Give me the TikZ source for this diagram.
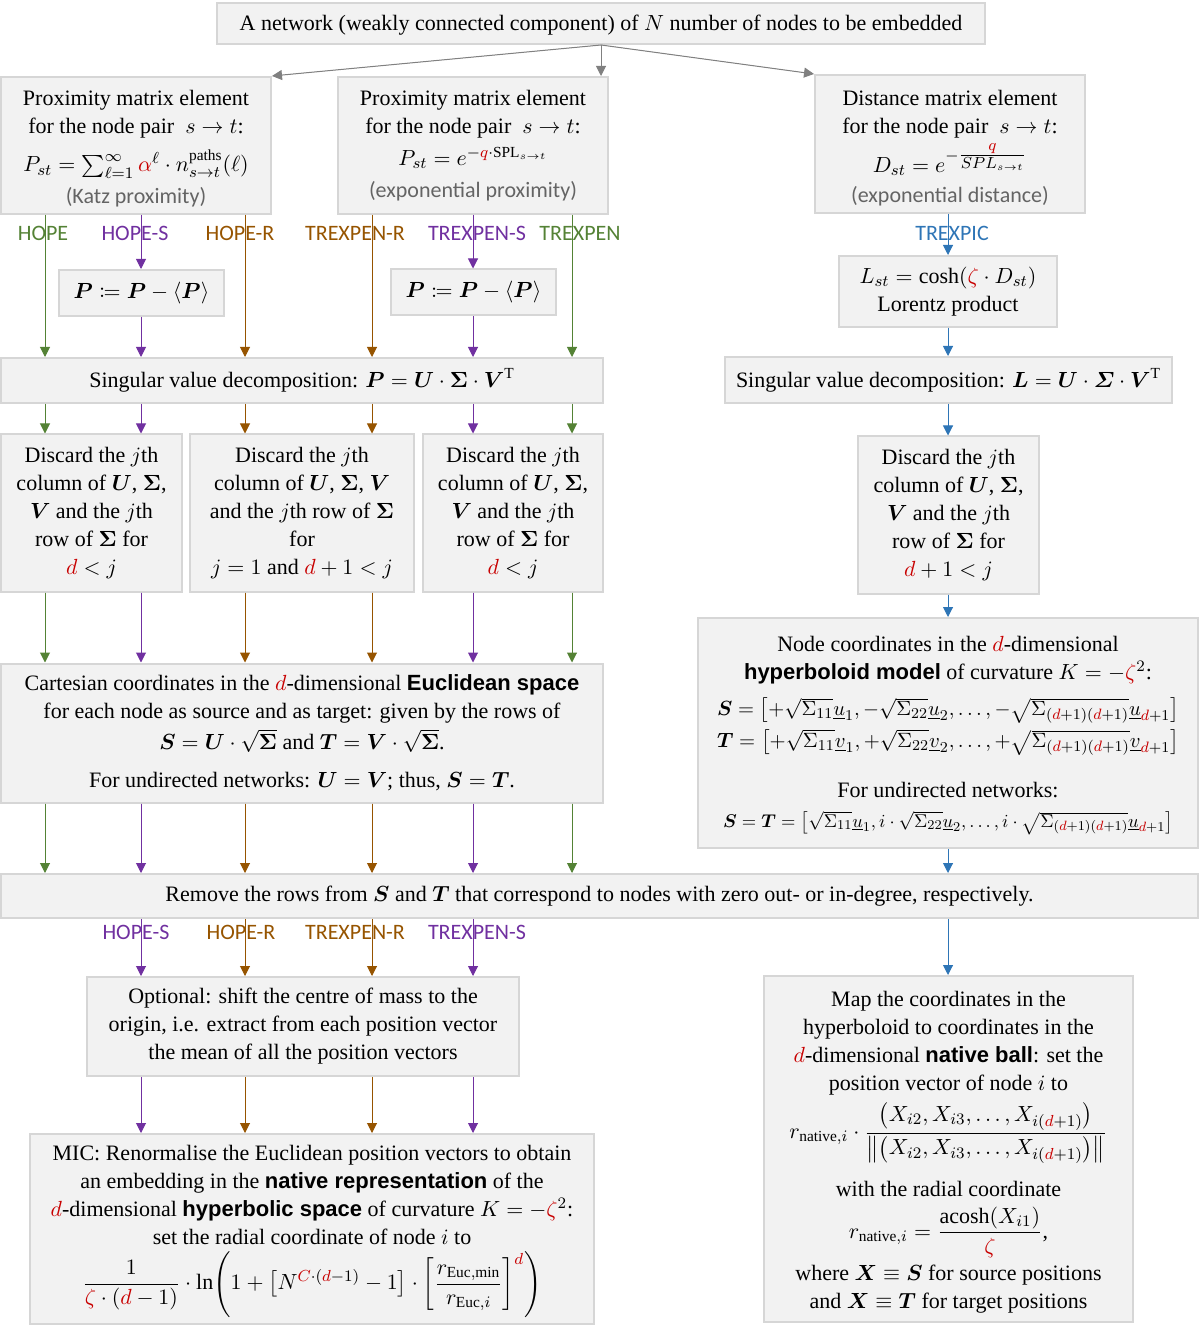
\documentclass[tikz,border=0pt]{standalone}
\usepackage{mathtools,amssymb}
\usepackage{graphicx}
\usepackage{fontspec}
\setmainfont{Liberation Serif}
\newfontfamily\lblfont{Carlito}
\newfontfamily\hvfont{Liberation Sans}
\usetikzlibrary{arrows.meta}
\definecolor{bfill}{RGB}{242,242,242}
\definecolor{bdraw}{RGB}{214,214,214}
\definecolor{cgreen}{RGB}{84,130,53}
\definecolor{cpurple}{RGB}{112,48,160}
\definecolor{cbrown}{RGB}{150,84,0}
\definecolor{cblue}{RGB}{46,117,182}
\definecolor{cgrey}{RGB}{128,128,128}
\definecolor{ctxtgrey}{RGB}{100,100,100}
\definecolor{myred}{RGB}{200,0,0}
\newcommand{\bmx}[1]{\boldsymbol{#1}}
\newcommand{\rdc}[1]{{\color{myred}#1}}
\newcommand{\hv}[1]{{\hvfont\bfseries #1}}
\begin{document}
\begin{tikzpicture}[x=0.5pt,y=-0.5pt,
  box/.style={draw=bdraw,fill=bfill,line width=1pt,align=center,inner sep=0pt,
    font=\fontsize{11}{14}\selectfont},
  lbl/.style={font=\lblfont\fontsize{11}{13}\selectfont,inner sep=0pt},
  arr/.style={line width=0.5pt,-{Triangle[width=5pt,length=5pt]}},
  ag/.style={arr,draw=cgreen,fill=cgreen},
  ap/.style={arr,draw=cpurple,fill=cpurple},
  ab/.style={arr,draw=cbrown,fill=cbrown},
  al/.style={arr,draw=cblue,fill=cblue},
  agr/.style={arr,draw=cgrey,fill=cgrey}]
\useasboundingbox (0,0) rectangle (1200,1325);

% boxes
\node[box,minimum width=384pt,minimum height=20.5pt] (T) at (601,23.5)
  {\rule{0pt}{9pt}A network (weakly connected component) of $N$ number of nodes to be embedded};

\node[box,minimum width=135pt,minimum height=68.5pt] (P1) at (136,145.5)
  {\rule{0pt}{11pt}Proximity matrix element\\
   for the node pair \ $s\to t$:\\[5pt]
   $P_{st}=\sum_{\ell=1}^{\infty}\rdc{\alpha}^{\ell}\cdot n_{s\to t}^{\mathrm{paths}}(\ell)$\\[2pt]
   {\lblfont\color{ctxtgrey}(Katz proximity)}};

\node[box,minimum width=135pt,minimum height=68.5pt] (P2) at (473,145.5)
  {Proximity matrix element\\
   for the node pair \ $s\to t$:\\[2pt]
   $P_{st}=e^{-\rdc{q}\cdot\mathrm{SPL}_{s\to t}}$\\[2pt]
   {\lblfont\color{ctxtgrey}(exponential proximity)}};

\node[box,minimum width=135pt,minimum height=69pt] (D) at (950,144)
  {\rule{0pt}{11.5pt}Distance matrix element\\
   for the node pair \ $s\to t$:\\[2pt]
   $D_{st}=e^{-\tfrac{\rdc{q}}{SPL_{s\to t}}}$\\[1pt]
   {\lblfont\color{ctxtgrey}(exponential distance)}};

\node[box,minimum width=82.5pt,minimum height=23pt] (Pc1) at (141.5,293)
  {$\bmx{P}\coloneqq\bmx{P}-\langle\bmx{P}\rangle$};
\node[box,minimum width=82.5pt,minimum height=23pt] (Pc2) at (473.5,292.5)
  {$\bmx{P}\coloneqq\bmx{P}-\langle\bmx{P}\rangle$};

\node[box,minimum width=109pt,minimum height=35.5pt] (L) at (948,291.5)
  {$L_{st}=\cosh(\rdc{\zeta}\cdot D_{st})$\\Lorentz product};

\node[box,minimum width=301pt,minimum height=22.5pt] (SVD1) at (302,380.5)
  {Singular value decomposition: $\bmx{P}=\bmx{U}\cdot\bmx{\Sigma}\cdot\bmx{V}^{\mathrm{T}}$};
\node[box,minimum width=223.5pt,minimum height=23pt] (SVD2) at (948.5,380)
  {Singular value decomposition: $\bmx{L}=\bmx{U}\cdot\bmx{\varSigma}\cdot\bmx{V}^{\mathrm{T}}$};

\node[box,minimum width=90.5pt,minimum height=78.5pt] (Di1) at (91.5,513)
  {Discard the $j$th\\column of $\bmx{U}$, $\bmx{\Sigma}$,\\$\bmx{V}$ and the $j$th\\row of $\bmx{\Sigma}$ for\\$\rdc{d}<j$};
\node[box,minimum width=112pt,minimum height=78.5pt] (Di2) at (302,513)
  {Discard the $j$th\\column of $\bmx{U}$, $\bmx{\Sigma}$, $\bmx{V}$\\and the $j$th row of $\bmx{\Sigma}$\\for\\$j=1$ and $\rdc{d}+1<j$};
\node[box,minimum width=90pt,minimum height=78.5pt] (Di3) at (513,513)
  {Discard the $j$th\\column of $\bmx{U}$, $\bmx{\Sigma}$,\\$\bmx{V}$ and the $j$th\\row of $\bmx{\Sigma}$ for\\$\rdc{d}<j$};
\node[box,minimum width=90.5pt,minimum height=78.5pt] (Di4) at (948.5,515)
  {Discard the $j$th\\column of $\bmx{U}$, $\bmx{\Sigma}$,\\$\bmx{V}$ and the $j$th\\row of $\bmx{\Sigma}$ for\\$\rdc{d}+1<j$};

\node[box,minimum width=301pt,minimum height=69.5pt] (Cart) at (302,733)
  {Cartesian coordinates in the $\rdc{d}$-dimensional \hv{Euclidean space}\\
   for each node as source and as target: given by the rows of\\[1.5pt]
   $\bmx{S}=\bmx{U}\cdot\sqrt{\bmx{\Sigma}}$ and $\bmx{T}=\bmx{V}\cdot\sqrt{\bmx{\Sigma}}$.\\[5pt]
   For undirected networks: $\bmx{U}=\bmx{V}$; thus, $\bmx{S}=\bmx{T}$.};

\node[box,minimum width=250pt,minimum height=115pt] (Hyp) at (948,733)
  {\rule{0pt}{10pt}Node coordinates in the $\rdc{d}$-dimensional\\
   \hv{hyperboloid model} of curvature $K=-\rdc{\zeta}^2$:\\[4pt]
   \resizebox{231pt}{!}{$\bmx{S}=\bigl[+\sqrt{\Sigma_{11}}\underline{u}_1,-\sqrt{\Sigma_{22}}\underline{u}_2,\ldots,-\sqrt{\Sigma_{(\rdc{d}+1)(\rdc{d}+1)}}\underline{u}_{\rdc{d}+1}\bigr]$}\\[2pt]
   \resizebox{231pt}{!}{$\bmx{T}=\bigl[+\sqrt{\Sigma_{11}}\underline{v}_1,+\sqrt{\Sigma_{22}}\underline{v}_2,\ldots,+\sqrt{\Sigma_{(\rdc{d}+1)(\rdc{d}+1)}}\underline{v}_{\rdc{d}+1}\bigr]$}\\[11pt]
   For undirected networks:\\[1pt]
   \resizebox{225pt}{!}{$\bmx{S}=\bmx{T}=\bigl[\sqrt{\Sigma_{11}}\underline{u}_1,i\cdot\sqrt{\Sigma_{22}}\underline{u}_2,\ldots,i\cdot\sqrt{\Sigma_{(\rdc{d}+1)(\rdc{d}+1)}}\underline{u}_{\rdc{d}+1}\bigr]$}};

\node[box,minimum width=598.5pt,minimum height=22pt] (Rem) at (599.5,896)
  {Remove the rows from $\bmx{S}$ and $\bmx{T}$ that correspond to nodes with zero out- or in-degree, respectively.};

\node[box,minimum width=216pt,minimum height=49.5pt] (Opt) at (303,1026.5)
  {Optional: shift the centre of mass to the\\origin, i.e. extract from each position vector\\the mean of all the position vectors};

\node[box,minimum width=282pt,minimum height=95pt] (MIC) at (312,1229)
  {\rule{0pt}{10pt}MIC: Renormalise the Euclidean position vectors to obtain\\
   an embedding in the \hv{native representation} of the\\
   $\rdc{d}$-dimensional \hv{hyperbolic space} of curvature $K=-\rdc{\zeta}^2$:\\
   set the radial coordinate of node $i$ to\\[2pt]
   $\dfrac{1}{\rdc{\zeta}\cdot(\rdc{d}-1)}\cdot\ln\!\left(1+\left[N^{\rdc{C}\cdot(\rdc{d}-1)}-1\right]\cdot\left[\dfrac{r_{\mathrm{Euc,min}}}{r_{\mathrm{Euc},i}}\right]^{\rdc{d}}\right)$};

\node[box,minimum width=184.5pt,minimum height=173pt] (Map) at (948.5,1149)
  {\rule{0pt}{11pt}Map the coordinates in the\\
   hyperboloid to coordinates in the\\
   $\rdc{d}$-dimensional \hv{native ball}: set the\\
   position vector of node $i$ to\\[3pt]
   $r_{\mathrm{native},i}\cdot\dfrac{\bigl(X_{i2},X_{i3},\dots,X_{i(\rdc{d}+1)}\bigr)}{\bigl\|\bigl(X_{i2},X_{i3},\dots,X_{i(\rdc{d}+1)}\bigr)\bigr\|}$\\[8pt]
   with the radial coordinate\\[4pt]
   $r_{\mathrm{native},i}=\dfrac{\mathrm{acosh}(X_{i1})}{\rdc{\zeta}}$,\\[3pt]
   where $\bmx{X}\equiv\bmx{S}$ for source positions\\
   and $\bmx{X}\equiv\bmx{T}$ for target positions};

% labels
\node[lbl,text=cgreen]  (l1) at (43,233)  {HOPE};
\node[lbl,text=cpurple] (l2) at (135,233) {HOPE-S};
\node[lbl,text=cbrown]  (l3) at (240,233) {HOPE-R};
\node[lbl,text=cbrown]  (l4) at (355,233) {TREXPEN-R};
\node[lbl,text=cpurple] (l5) at (477,233) {TREXPEN-S};
\node[lbl,text=cgreen]  (l6) at (580,233) {TREXPEN};
\node[lbl,text=cblue]   (l7) at (952,233) {TREXPIC};
\node[lbl,text=cpurple] (m2) at (136,932) {HOPE-S};
\node[lbl,text=cbrown]  (m3) at (241,932) {HOPE-R};
\node[lbl,text=cbrown]  (m4) at (355,932) {TREXPEN-R};
\node[lbl,text=cpurple] (m5) at (477,932) {TREXPEN-S};

% column coordinates
\coordinate (cA) at (45,0);
\coordinate (cB) at (141,0);
\coordinate (cC) at (245,0);
\coordinate (cD) at (372,0);
\coordinate (cE) at (473,0);
\coordinate (cF) at (572,0);
\coordinate (cG) at (948,0);

% top connectors
\draw[agr] (T.south) -- (P1.north east);
\draw[agr] (T.south) -- (T.south |- P2.north);
\draw[agr] (T.south) -- (D.north west);

\foreach \c/\a/\b in {cA/P1/SVD1,cA/SVD1/Di1,cA/Di1/Cart,cA/Cart/Rem,
                      cF/P2/SVD1,cF/SVD1/Di3,cF/Di3/Cart,cF/Cart/Rem}
  \draw[ag] (\c |- \a.south) -- (\c |- \b.north);
\foreach \c/\a/\b in {cB/P1/Pc1,cB/Pc1/SVD1,cB/SVD1/Di1,cB/Di1/Cart,cB/Cart/Rem,cB/Rem/Opt,cB/Opt/MIC,
                      cE/P2/Pc2,cE/Pc2/SVD1,cE/SVD1/Di3,cE/Di3/Cart,cE/Cart/Rem,cE/Rem/Opt,cE/Opt/MIC}
  \draw[ap] (\c |- \a.south) -- (\c |- \b.north);
\foreach \c/\a/\b in {cC/P1/SVD1,cC/SVD1/Di2,cC/Di2/Cart,cC/Cart/Rem,cC/Rem/Opt,cC/Opt/MIC,
                      cD/P2/SVD1,cD/SVD1/Di2,cD/Di2/Cart,cD/Cart/Rem,cD/Rem/Opt,cD/Opt/MIC}
  \draw[ab] (\c |- \a.south) -- (\c |- \b.north);
\foreach \c/\a/\b in {cG/D/L,cG/L/SVD2,cG/SVD2/Di4,cG/Di4/Hyp,cG/Hyp/Rem,cG/Rem/Map}
  \draw[al] (\c |- \a.south) -- (\c |- \b.north);
\end{tikzpicture}
\end{document}
